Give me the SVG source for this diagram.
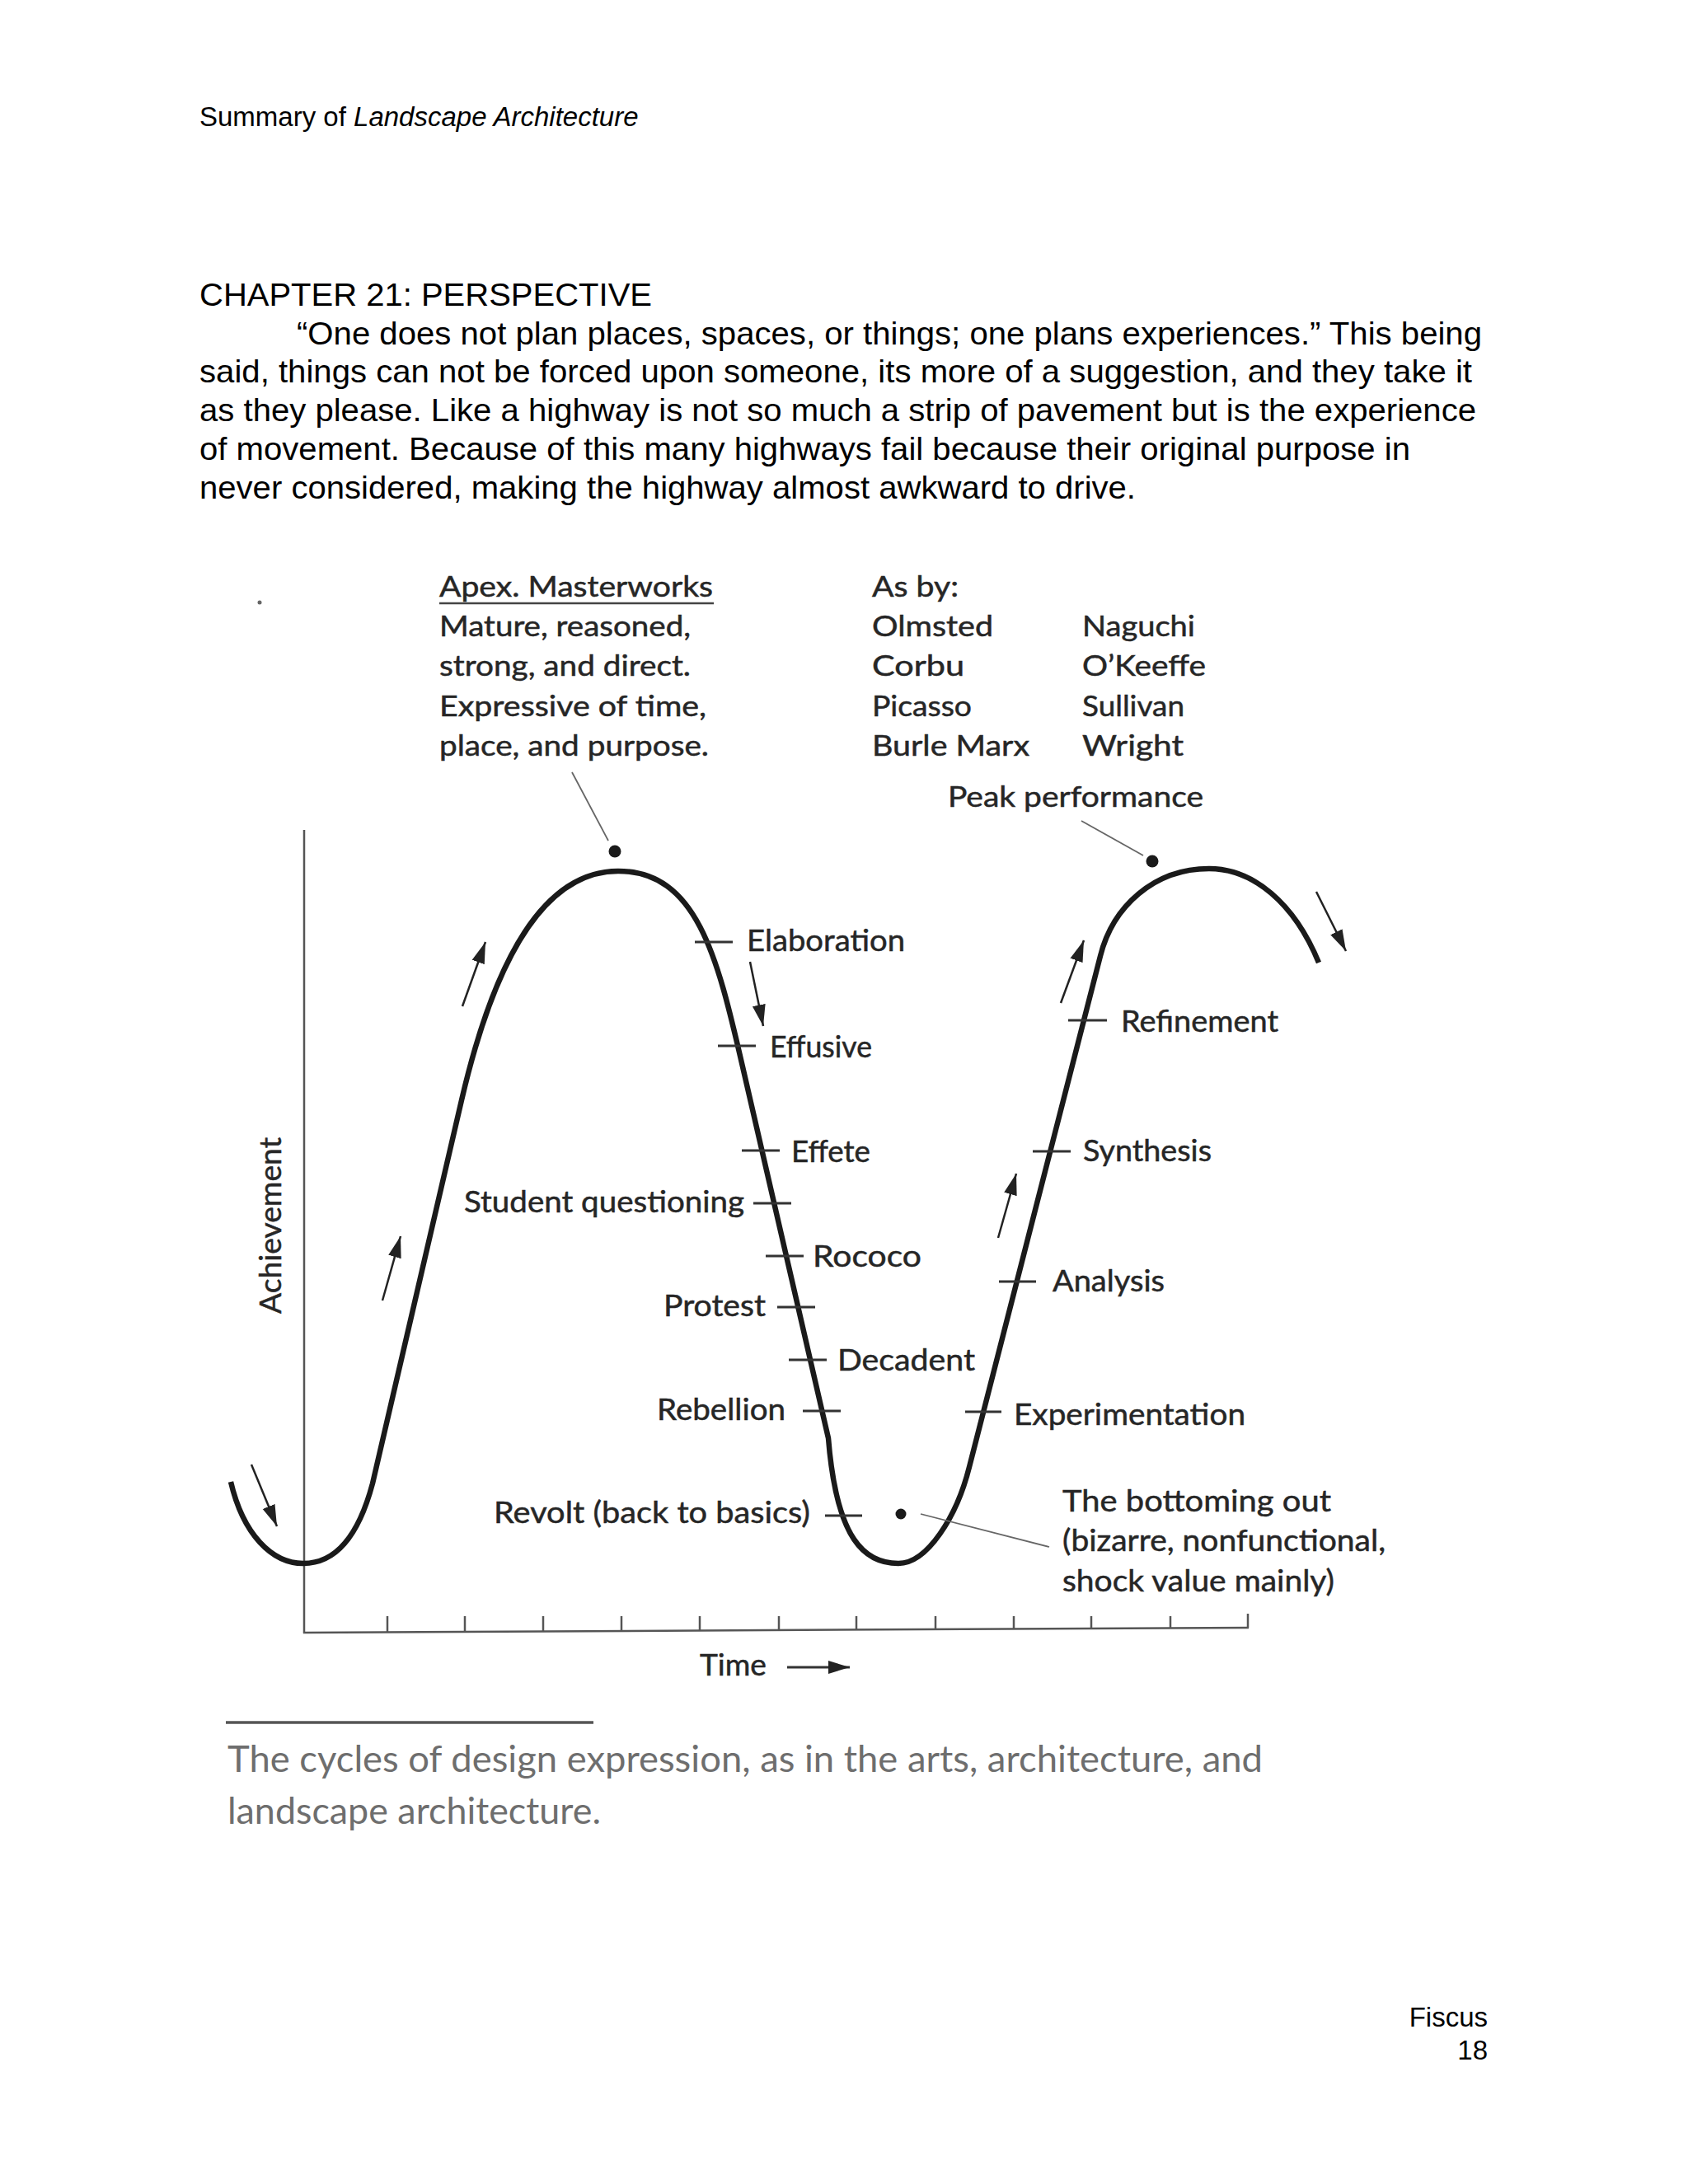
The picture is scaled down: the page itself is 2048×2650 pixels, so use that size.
<svg xmlns="http://www.w3.org/2000/svg" width="2048" height="2650" viewBox="0 0 2048 2650">
<defs>
<style>
.body{font-family:"Liberation Sans",Arial,sans-serif;font-size:39px;fill:#000}
.hdr{font-family:"Liberation Sans",Arial,sans-serif;font-size:33px;fill:#000}
.lbl{font-family:Lato,"Open Sans",sans-serif;font-size:37px;fill:#262626;stroke:#262626;stroke-width:0.5}
.top{font-family:Lato,"Open Sans",sans-serif;font-size:35px;fill:#262626;stroke:#262626;stroke-width:0.5}
.cap{font-family:Lato,"Open Sans",sans-serif;font-size:44px;fill:#6e6e6e}
.curve{fill:none;stroke:#1a1a1a;stroke-width:6.5;stroke-linecap:butt;stroke-linejoin:round}
.tick{stroke:#333;stroke-width:3}
.axis{stroke:#555;stroke-width:2.5;fill:none}
.arrow{stroke:#222;stroke-width:2.5;fill:none;marker-end:url(#ah)}
.leader{stroke:#666;stroke-width:1.8;fill:none}
.dot{fill:#1a1a1a}
</style>
<marker id="ah" markerUnits="userSpaceOnUse" markerWidth="28" markerHeight="18" viewBox="0 0 28 18" refX="26" refY="9" orient="auto">
<path d="M0,1 L26,9 L0,17 z" fill="#222"/>
</marker>
</defs>
<rect x="0" y="0" width="2048" height="2650" fill="#ffffff"/>

<g id="page-header">
<text class="hdr" x="242" y="153">Summary of <tspan font-style="italic">Landscape Architecture</tspan></text>
</g>

<g id="body-text">
<text class="body" x="242" y="371" textLength="549" lengthAdjust="spacingAndGlyphs">CHAPTER 21: PERSPECTIVE</text>
<text class="body" x="360" y="418" textLength="1438" lengthAdjust="spacingAndGlyphs">“One does not plan places, spaces, or things; one plans experiences.” This being</text>
<text class="body" x="242" y="464" textLength="1544" lengthAdjust="spacingAndGlyphs">said, things can not be forced upon someone, its more of a suggestion, and they take it</text>
<text class="body" x="242" y="511" textLength="1549" lengthAdjust="spacingAndGlyphs">as they please. Like a highway is not so much a strip of pavement but is the experience</text>
<text class="body" x="242" y="558" textLength="1469" lengthAdjust="spacingAndGlyphs">of movement. Because of this many highways fail because their original purpose in</text>
<text class="body" x="242" y="605" textLength="1136" lengthAdjust="spacingAndGlyphs">never considered, making the highway almost awkward to drive.</text>
</g>

<g id="stray-mark">
<circle cx="315" cy="731" r="2.5" fill="#666"/>
</g>

<g id="axes">
<line class="axis" x1="369" y1="1007" x2="369" y2="1982"/>
<line class="axis" x1="368" y1="1981" x2="1515" y2="1975"/>
<g class="axis">
<line x1="470" y1="1961" x2="470" y2="1980"/>
<line x1="564" y1="1961" x2="564" y2="1980"/>
<line x1="659" y1="1961" x2="659" y2="1979"/>
<line x1="754" y1="1961" x2="754" y2="1979"/>
<line x1="849" y1="1961" x2="849" y2="1978"/>
<line x1="945" y1="1961" x2="945" y2="1978"/>
<line x1="1039" y1="1961" x2="1039" y2="1977"/>
<line x1="1135" y1="1961" x2="1135" y2="1977"/>
<line x1="1230" y1="1961" x2="1230" y2="1976"/>
<line x1="1324" y1="1961" x2="1324" y2="1976"/>
<line x1="1420" y1="1961" x2="1420" y2="1975"/>
<line x1="1514" y1="1958" x2="1514" y2="1975"/>
</g>
</g>

<g id="connectors">
<path class="curve" d="M280 1798 C295 1862 330 1897 368 1897 C410 1897 436 1860 452 1800 L560 1335 C600 1163 660 1057 750 1057 C845 1057 870 1160 900 1290 L1005 1745 C1015 1870 1050 1897 1090 1897 C1125 1897 1161 1840 1176 1780 L1335 1160 C1350 1100 1400 1054 1467 1054 C1520 1054 1570 1095 1600 1168"/>
<g id="ticks">
<line class="tick" x1="843" y1="1143" x2="889" y2="1143"/>
<line class="tick" x1="871" y1="1269" x2="917" y2="1269"/>
<line class="tick" x1="900" y1="1396" x2="946" y2="1396"/>
<line class="tick" x1="914" y1="1460" x2="960" y2="1460"/>
<line class="tick" x1="929" y1="1524" x2="975" y2="1524"/>
<line class="tick" x1="943" y1="1586" x2="989" y2="1586"/>
<line class="tick" x1="957" y1="1650" x2="1003" y2="1650"/>
<line class="tick" x1="974" y1="1712" x2="1020" y2="1712"/>
<line class="tick" x1="1001" y1="1839" x2="1046" y2="1839"/>
<line class="tick" x1="1171" y1="1713" x2="1215" y2="1713"/>
<line class="tick" x1="1212" y1="1555" x2="1257" y2="1555"/>
<line class="tick" x1="1253" y1="1397" x2="1299" y2="1397"/>
<line class="tick" x1="1296" y1="1238" x2="1343" y2="1238"/>
</g>
<g id="arrows">
<line class="arrow" x1="305" y1="1777" x2="336" y2="1852"/>
<line class="arrow" x1="464" y1="1578" x2="486" y2="1500"/>
<line class="arrow" x1="561" y1="1221" x2="589" y2="1143"/>
<line class="arrow" x1="910" y1="1167" x2="926" y2="1245"/>
<line class="arrow" x1="1211" y1="1502" x2="1233" y2="1424"/>
<line class="arrow" x1="1287" y1="1217" x2="1315" y2="1141"/>
<line class="arrow" x1="1597" y1="1082" x2="1633" y2="1154"/>
</g>
<g id="leaders">
<line class="leader" x1="694" y1="937" x2="738" y2="1020"/>
<line class="leader" x1="1312" y1="996" x2="1387" y2="1038"/>
<line class="leader" x1="1117" y1="1837" x2="1273" y2="1877" stroke="#888"/>
</g>
<circle class="dot" cx="746" cy="1033" r="7.5"/>
<circle class="dot" cx="1398" cy="1045" r="7.5"/>
<circle class="dot" cx="1093" cy="1837" r="6.5"/>
</g>

<g id="node-apex">
<text class="top" x="533" y="724" textLength="332" lengthAdjust="spacingAndGlyphs">Apex. Masterworks</text>
<line x1="533" y1="732" x2="866" y2="732" stroke="#444" stroke-width="2.5"/>
<text class="top" x="533" y="772" textLength="305" lengthAdjust="spacingAndGlyphs">Mature, reasoned,</text>
<text class="top" x="533" y="820" textLength="305" lengthAdjust="spacingAndGlyphs">strong, and direct.</text>
<text class="top" x="533" y="869" textLength="324" lengthAdjust="spacingAndGlyphs">Expressive of time,</text>
<text class="top" x="533" y="917" textLength="327" lengthAdjust="spacingAndGlyphs">place, and purpose.</text>
</g>

<g id="node-as-by">
<text class="top" x="1058" y="724" textLength="105" lengthAdjust="spacingAndGlyphs">As by:</text>
<text class="top" x="1058" y="772" textLength="147" lengthAdjust="spacingAndGlyphs">Olmsted</text>
<text class="top" x="1058" y="820" textLength="112" lengthAdjust="spacingAndGlyphs">Corbu</text>
<text class="top" x="1058" y="869" textLength="121" lengthAdjust="spacingAndGlyphs">Picasso</text>
<text class="top" x="1058" y="917" textLength="191" lengthAdjust="spacingAndGlyphs">Burle Marx</text>
<text class="top" x="1313" y="772" textLength="137" lengthAdjust="spacingAndGlyphs">Naguchi</text>
<text class="top" x="1313" y="820" textLength="150" lengthAdjust="spacingAndGlyphs">O’Keeffe</text>
<text class="top" x="1313" y="869" textLength="124" lengthAdjust="spacingAndGlyphs">Sullivan</text>
<text class="top" x="1313" y="917" textLength="123" lengthAdjust="spacingAndGlyphs">Wright</text>
</g>

<g id="node-peak"><text class="top" x="1150" y="979" textLength="310" lengthAdjust="spacingAndGlyphs">Peak performance</text></g>

<g id="node-elaboration"><text class="lbl" x="906" y="1154" textLength="192" lengthAdjust="spacingAndGlyphs">Elaboration</text></g>
<g id="node-effusive"><text class="lbl" x="934" y="1283" textLength="124" lengthAdjust="spacingAndGlyphs">Effusive</text></g>
<g id="node-effete"><text class="lbl" x="960" y="1410" textLength="96" lengthAdjust="spacingAndGlyphs">Effete</text></g>
<g id="node-student"><text class="lbl" x="563" y="1471" textLength="340" lengthAdjust="spacingAndGlyphs">Student questioning</text></g>
<g id="node-rococo"><text class="lbl" x="986" y="1537" textLength="132" lengthAdjust="spacingAndGlyphs">Rococo</text></g>
<g id="node-protest"><text class="lbl" x="805" y="1597" textLength="124" lengthAdjust="spacingAndGlyphs">Protest</text></g>
<g id="node-decadent"><text class="lbl" x="1016" y="1663" textLength="167" lengthAdjust="spacingAndGlyphs">Decadent</text></g>
<g id="node-rebellion"><text class="lbl" x="797" y="1723" textLength="156" lengthAdjust="spacingAndGlyphs">Rebellion</text></g>
<g id="node-revolt"><text class="lbl" x="599" y="1848" textLength="384" lengthAdjust="spacingAndGlyphs">Revolt (back to basics)</text></g>
<g id="node-experimentation"><text class="lbl" x="1230" y="1729" textLength="281" lengthAdjust="spacingAndGlyphs">Experimentation</text></g>
<g id="node-analysis"><text class="lbl" x="1277" y="1567" textLength="136" lengthAdjust="spacingAndGlyphs">Analysis</text></g>
<g id="node-synthesis"><text class="lbl" x="1314" y="1409" textLength="156" lengthAdjust="spacingAndGlyphs">Synthesis</text></g>
<g id="node-refinement"><text class="lbl" x="1360" y="1252" textLength="191" lengthAdjust="spacingAndGlyphs">Refinement</text></g>
<g id="node-bottoming">
<text class="lbl" x="1289" y="1834" textLength="326" lengthAdjust="spacingAndGlyphs">The bottoming out</text>
<text class="lbl" x="1289" y="1882" textLength="392" lengthAdjust="spacingAndGlyphs">(bizarre, nonfunctional,</text>
<text class="lbl" x="1289" y="1931" textLength="330" lengthAdjust="spacingAndGlyphs">shock value mainly)</text>
</g>
<g id="node-achievement"><text class="lbl" transform="translate(341 1594) rotate(-90)" x="0" y="0" font-size="39" textLength="214" lengthAdjust="spacingAndGlyphs">Achievement</text></g>
<g id="node-time">
<text class="lbl" x="849" y="2033" textLength="81" lengthAdjust="spacingAndGlyphs">Time</text>
<line x1="955" y1="2023" x2="1031" y2="2023" stroke="#333" stroke-width="3" marker-end="url(#ah)"/>
</g>

<g id="caption">
<line x1="274" y1="2090" x2="720" y2="2090" stroke="#555" stroke-width="3.5"/>
<text class="cap" x="276" y="2150" textLength="1256" lengthAdjust="spacingAndGlyphs">The cycles of design expression, as in the arts, architecture, and</text>
<text class="cap" x="276" y="2213" textLength="453" lengthAdjust="spacingAndGlyphs">landscape architecture.</text>
</g>

<g id="page-footer">
<text class="hdr" x="1805" y="2459" text-anchor="end">Fiscus</text>
<text class="hdr" x="1805" y="2499" text-anchor="end">18</text>
</g>
</svg>
